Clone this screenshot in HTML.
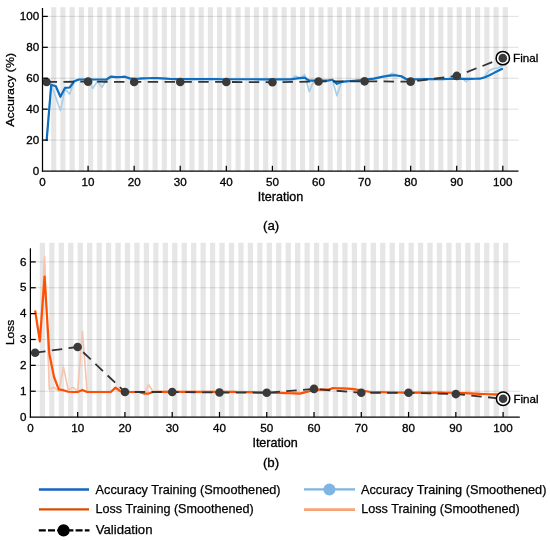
<!DOCTYPE html>
<html><head><meta charset="utf-8"><title>Training progress</title>
<style>html,body{margin:0;padding:0;background:#fff;} svg{display:block;} text{stroke:#000;stroke-width:0.3px;} text.lg{stroke-width:0.25px;}</style></head>
<body>
<svg width="550" height="540" viewBox="0 0 550 540" font-family='"Liberation Sans", sans-serif' fill="#000">
<rect width="550" height="540" fill="#fff"/>
<rect x="51.17" y="7.2" width="5.11" height="163.8" fill="#e6e6e6"/>
<rect x="60.38" y="7.2" width="5.11" height="163.8" fill="#e6e6e6"/>
<rect x="69.6" y="7.2" width="5.11" height="163.8" fill="#e6e6e6"/>
<rect x="78.81" y="7.2" width="5.11" height="163.8" fill="#e6e6e6"/>
<rect x="88.03" y="7.2" width="5.11" height="163.8" fill="#e6e6e6"/>
<rect x="97.25" y="7.2" width="5.11" height="163.8" fill="#e6e6e6"/>
<rect x="106.46" y="7.2" width="5.11" height="163.8" fill="#e6e6e6"/>
<rect x="115.68" y="7.2" width="5.11" height="163.8" fill="#e6e6e6"/>
<rect x="124.89" y="7.2" width="5.11" height="163.8" fill="#e6e6e6"/>
<rect x="134.11" y="7.2" width="5.11" height="163.8" fill="#e6e6e6"/>
<rect x="143.33" y="7.2" width="5.11" height="163.8" fill="#e6e6e6"/>
<rect x="152.54" y="7.2" width="5.11" height="163.8" fill="#e6e6e6"/>
<rect x="161.76" y="7.2" width="5.11" height="163.8" fill="#e6e6e6"/>
<rect x="170.97" y="7.2" width="5.11" height="163.8" fill="#e6e6e6"/>
<rect x="180.19" y="7.2" width="5.11" height="163.8" fill="#e6e6e6"/>
<rect x="189.41" y="7.2" width="5.11" height="163.8" fill="#e6e6e6"/>
<rect x="198.62" y="7.2" width="5.11" height="163.8" fill="#e6e6e6"/>
<rect x="207.84" y="7.2" width="5.11" height="163.8" fill="#e6e6e6"/>
<rect x="217.05" y="7.2" width="5.11" height="163.8" fill="#e6e6e6"/>
<rect x="226.27" y="7.2" width="5.11" height="163.8" fill="#e6e6e6"/>
<rect x="235.49" y="7.2" width="5.11" height="163.8" fill="#e6e6e6"/>
<rect x="244.7" y="7.2" width="5.11" height="163.8" fill="#e6e6e6"/>
<rect x="253.92" y="7.2" width="5.11" height="163.8" fill="#e6e6e6"/>
<rect x="263.13" y="7.2" width="5.11" height="163.8" fill="#e6e6e6"/>
<rect x="272.35" y="7.2" width="5.11" height="163.8" fill="#e6e6e6"/>
<rect x="281.57" y="7.2" width="5.11" height="163.8" fill="#e6e6e6"/>
<rect x="290.78" y="7.2" width="5.11" height="163.8" fill="#e6e6e6"/>
<rect x="300" y="7.2" width="5.11" height="163.8" fill="#e6e6e6"/>
<rect x="309.21" y="7.2" width="5.11" height="163.8" fill="#e6e6e6"/>
<rect x="318.43" y="7.2" width="5.11" height="163.8" fill="#e6e6e6"/>
<rect x="327.65" y="7.2" width="5.11" height="163.8" fill="#e6e6e6"/>
<rect x="336.86" y="7.2" width="5.11" height="163.8" fill="#e6e6e6"/>
<rect x="346.08" y="7.2" width="5.11" height="163.8" fill="#e6e6e6"/>
<rect x="355.29" y="7.2" width="5.11" height="163.8" fill="#e6e6e6"/>
<rect x="364.51" y="7.2" width="5.11" height="163.8" fill="#e6e6e6"/>
<rect x="373.73" y="7.2" width="5.11" height="163.8" fill="#e6e6e6"/>
<rect x="382.94" y="7.2" width="5.11" height="163.8" fill="#e6e6e6"/>
<rect x="392.16" y="7.2" width="5.11" height="163.8" fill="#e6e6e6"/>
<rect x="401.37" y="7.2" width="5.11" height="163.8" fill="#e6e6e6"/>
<rect x="410.59" y="7.2" width="5.11" height="163.8" fill="#e6e6e6"/>
<rect x="419.81" y="7.2" width="5.11" height="163.8" fill="#e6e6e6"/>
<rect x="429.02" y="7.2" width="5.11" height="163.8" fill="#e6e6e6"/>
<rect x="438.24" y="7.2" width="5.11" height="163.8" fill="#e6e6e6"/>
<rect x="447.45" y="7.2" width="5.11" height="163.8" fill="#e6e6e6"/>
<rect x="456.67" y="7.2" width="5.11" height="163.8" fill="#e6e6e6"/>
<rect x="465.89" y="7.2" width="5.11" height="163.8" fill="#e6e6e6"/>
<rect x="475.1" y="7.2" width="5.11" height="163.8" fill="#e6e6e6"/>
<rect x="484.32" y="7.2" width="5.11" height="163.8" fill="#e6e6e6"/>
<rect x="493.53" y="7.2" width="5.11" height="163.8" fill="#e6e6e6"/>
<rect x="502.75" y="7.2" width="5.11" height="163.8" fill="#e6e6e6"/>
<line x1="42.5" y1="140.08" x2="518.5" y2="140.08" stroke="#262626" stroke-opacity="0.15" stroke-width="1"/>
<line x1="42.5" y1="109.16" x2="518.5" y2="109.16" stroke="#262626" stroke-opacity="0.15" stroke-width="1"/>
<line x1="42.5" y1="78.24" x2="518.5" y2="78.24" stroke="#262626" stroke-opacity="0.15" stroke-width="1"/>
<line x1="42.5" y1="47.32" x2="518.5" y2="47.32" stroke="#262626" stroke-opacity="0.15" stroke-width="1"/>
<line x1="42.5" y1="16.4" x2="518.5" y2="16.4" stroke="#262626" stroke-opacity="0.15" stroke-width="1"/>
<clipPath id="c171"><rect x="42.5" y="0" width="486" height="171"/></clipPath>
<g clip-path="url(#c171)">
<polyline points="46.61,140.85 51.22,84.42 55.82,97.56 60.43,110.55 65.04,89.06 69.65,94.16 74.26,81.33 78.86,79.48 83.47,79.48 88.08,79.48 92.69,88.44 97.3,81.33 101.9,87.36 106.51,79.48 111.12,76.54 115.73,77.16 120.34,77 124.94,76.69 129.55,78.39 134.16,78.86 138.77,78.7 143.38,78.39 147.98,78.24 152.59,78.09 157.2,78.09 161.81,78.39 166.42,78.7 171.02,79.01 175.63,79.17 180.24,79.17 184.85,79.18 189.46,79.19 194.06,79.19 198.67,79.2 203.28,79.2 207.89,79.21 212.5,79.22 217.1,79.22 221.71,79.23 226.32,79.24 230.93,79.24 235.54,79.25 240.14,79.25 244.75,79.26 249.36,79.27 253.97,79.27 258.58,79.28 263.18,79.29 267.79,79.29 272.4,79.3 277.01,79.3 281.62,79.31 286.22,79.32 290.83,79.32 295.44,75.92 300.05,78.09 304.66,74.53 309.26,91.69 313.87,80.67 318.48,80.64 323.09,80.6 327.7,80.56 332.3,79.79 336.91,95.71 341.52,81.95 346.13,81.33 350.74,81.02 355.34,80.71 359.95,80.25 364.56,79.79 369.17,79.17 373.78,78.55 378.38,77.62 382.99,76.69 387.6,75.92 392.21,73.14 396.82,75.46 401.42,76.23 406.03,79.01 410.64,79.32 415.25,79.28 419.86,79.24 424.46,79.2 429.07,79.16 433.68,79.12 438.29,79.07 442.9,79.03 447.5,78.99 452.11,76.69 456.72,74.38 461.33,77.47 465.94,81.64 470.54,78.86 475.15,78.75 479.76,78.7 484.37,76.69 488.98,70.82 493.58,68.5 498.19,68.04 502.8,65.25" fill="none" stroke="#a9cfe8" stroke-width="1.6" stroke-linejoin="round" stroke-linecap="butt" />
<polyline points="46.61,140.85 51.22,84.73 55.82,86.28 60.43,96.79 65.04,87.83 69.65,87.52 74.26,81.33 78.86,79.48 83.47,79.48 88.08,79.48 92.69,79.48 97.3,79.48 101.9,79.48 106.51,79.48 111.12,76.54 115.73,77.16 120.34,77 124.94,76.69 129.55,78.39 134.16,78.86 138.77,78.7 143.38,78.39 147.98,78.24 152.59,78.09 157.2,78.09 161.81,78.39 166.42,78.7 171.02,79.01 175.63,79.17 180.24,79.17 184.85,79.18 189.46,79.19 194.06,79.19 198.67,79.2 203.28,79.2 207.89,79.21 212.5,79.22 217.1,79.22 221.71,79.23 226.32,79.24 230.93,79.24 235.54,79.25 240.14,79.25 244.75,79.26 249.36,79.27 253.97,79.27 258.58,79.28 263.18,79.29 267.79,79.29 272.4,79.3 277.01,79.3 281.62,79.31 286.22,79.32 290.83,79.32 295.44,78.7 300.05,78.09 304.66,77.62 309.26,80.71 313.87,80.67 318.48,80.64 323.09,80.6 327.7,80.56 332.3,79.79 336.91,83.81 341.52,81.95 346.13,81.33 350.74,81.02 355.34,80.71 359.95,80.25 364.56,79.79 369.17,79.17 373.78,78.55 378.38,77.62 382.99,76.69 387.6,75.92 392.21,75.46 396.82,75.46 401.42,76.23 406.03,79.01 410.64,79.32 415.25,79.28 419.86,79.24 424.46,79.2 429.07,79.16 433.68,79.12 438.29,79.07 442.9,79.03 447.5,78.99 452.11,78.95 456.72,78.91 461.33,78.87 465.94,78.83 470.54,78.79 475.15,78.75 479.76,78.7 484.37,77.47 488.98,75.46 493.58,73.14 498.19,70.82 502.8,68.5" fill="none" stroke="#0e6fc0" stroke-width="2.2" stroke-linejoin="round" stroke-linecap="butt" />
<polyline points="46.61,81.95 88.08,81.64 134.16,81.95 180.24,81.95 226.32,81.95 272.4,82.26 318.48,81.49 364.56,81.33 410.64,81.64 456.72,75.92 502.8,58.14" fill="none" stroke="#333333" stroke-width="1.8" stroke-linejoin="round" stroke-linecap="butt" stroke-dasharray="10.45 6.4"/>
<circle cx="46.61" cy="81.95" r="4.3" fill="#3a3a3a"/>
<circle cx="88.08" cy="81.64" r="4.3" fill="#3a3a3a"/>
<circle cx="134.16" cy="81.95" r="4.3" fill="#3a3a3a"/>
<circle cx="180.24" cy="81.95" r="4.3" fill="#3a3a3a"/>
<circle cx="226.32" cy="81.95" r="4.3" fill="#3a3a3a"/>
<circle cx="272.4" cy="82.26" r="4.3" fill="#3a3a3a"/>
<circle cx="318.48" cy="81.49" r="4.3" fill="#3a3a3a"/>
<circle cx="364.56" cy="81.33" r="4.3" fill="#3a3a3a"/>
<circle cx="410.64" cy="81.64" r="4.3" fill="#3a3a3a"/>
<circle cx="456.72" cy="75.92" r="4.3" fill="#3a3a3a"/>
<circle cx="502.8" cy="58.14" r="6.7" fill="#fff" stroke="#000" stroke-width="1.5"/>
<circle cx="502.8" cy="58.14" r="4.3" fill="#3a3a3a"/>
</g>
<text x="513.1" y="62.44" font-size="11.2" textLength="25.2" lengthAdjust="spacingAndGlyphs">Final</text>
<line x1="42.5" y1="8" x2="42.5" y2="171.6" stroke="#000" stroke-width="1.25"/>
<line x1="41.9" y1="171" x2="518.5" y2="171" stroke="#000" stroke-width="1.25"/>
<text x="39.2" y="174.7" font-size="11.2" text-anchor="end" textLength="6.48" lengthAdjust="spacingAndGlyphs">0</text>
<line x1="42.5" y1="140.08" x2="47.8" y2="140.08" stroke="#000" stroke-width="1.25"/>
<text x="39.2" y="143.78" font-size="11.2" text-anchor="end" textLength="12.95" lengthAdjust="spacingAndGlyphs">20</text>
<line x1="42.5" y1="109.16" x2="47.8" y2="109.16" stroke="#000" stroke-width="1.25"/>
<text x="39.2" y="112.86" font-size="11.2" text-anchor="end" textLength="12.95" lengthAdjust="spacingAndGlyphs">40</text>
<line x1="42.5" y1="78.24" x2="47.8" y2="78.24" stroke="#000" stroke-width="1.25"/>
<text x="39.2" y="81.94" font-size="11.2" text-anchor="end" textLength="12.95" lengthAdjust="spacingAndGlyphs">60</text>
<line x1="42.5" y1="47.32" x2="47.8" y2="47.32" stroke="#000" stroke-width="1.25"/>
<text x="39.2" y="51.02" font-size="11.2" text-anchor="end" textLength="12.95" lengthAdjust="spacingAndGlyphs">80</text>
<line x1="42.5" y1="16.4" x2="47.8" y2="16.4" stroke="#000" stroke-width="1.25"/>
<text x="39.2" y="20.1" font-size="11.2" text-anchor="end" textLength="19.43" lengthAdjust="spacingAndGlyphs">100</text>
<text x="42.5" y="185.7" font-size="11.2" text-anchor="middle" textLength="6.48" lengthAdjust="spacingAndGlyphs">0</text>
<line x1="88.08" y1="171" x2="88.08" y2="165.8" stroke="#000" stroke-width="1.25"/>
<text x="88.08" y="185.7" font-size="11.2" text-anchor="middle" textLength="12.95" lengthAdjust="spacingAndGlyphs">10</text>
<line x1="134.16" y1="171" x2="134.16" y2="165.8" stroke="#000" stroke-width="1.25"/>
<text x="134.16" y="185.7" font-size="11.2" text-anchor="middle" textLength="12.95" lengthAdjust="spacingAndGlyphs">20</text>
<line x1="180.24" y1="171" x2="180.24" y2="165.8" stroke="#000" stroke-width="1.25"/>
<text x="180.24" y="185.7" font-size="11.2" text-anchor="middle" textLength="12.95" lengthAdjust="spacingAndGlyphs">30</text>
<line x1="226.32" y1="171" x2="226.32" y2="165.8" stroke="#000" stroke-width="1.25"/>
<text x="226.32" y="185.7" font-size="11.2" text-anchor="middle" textLength="12.95" lengthAdjust="spacingAndGlyphs">40</text>
<line x1="272.4" y1="171" x2="272.4" y2="165.8" stroke="#000" stroke-width="1.25"/>
<text x="272.4" y="185.7" font-size="11.2" text-anchor="middle" textLength="12.95" lengthAdjust="spacingAndGlyphs">50</text>
<line x1="318.48" y1="171" x2="318.48" y2="165.8" stroke="#000" stroke-width="1.25"/>
<text x="318.48" y="185.7" font-size="11.2" text-anchor="middle" textLength="12.95" lengthAdjust="spacingAndGlyphs">60</text>
<line x1="364.56" y1="171" x2="364.56" y2="165.8" stroke="#000" stroke-width="1.25"/>
<text x="364.56" y="185.7" font-size="11.2" text-anchor="middle" textLength="12.95" lengthAdjust="spacingAndGlyphs">70</text>
<line x1="410.64" y1="171" x2="410.64" y2="165.8" stroke="#000" stroke-width="1.25"/>
<text x="410.64" y="185.7" font-size="11.2" text-anchor="middle" textLength="12.95" lengthAdjust="spacingAndGlyphs">80</text>
<line x1="456.72" y1="171" x2="456.72" y2="165.8" stroke="#000" stroke-width="1.25"/>
<text x="456.72" y="185.7" font-size="11.2" text-anchor="middle" textLength="12.95" lengthAdjust="spacingAndGlyphs">90</text>
<line x1="502.8" y1="171" x2="502.8" y2="165.8" stroke="#000" stroke-width="1.25"/>
<text x="502.8" y="185.7" font-size="11.2" text-anchor="middle" textLength="19.43" lengthAdjust="spacingAndGlyphs">100</text>
<text x="280.5" y="201" font-size="11.9" text-anchor="middle" textLength="45.4" lengthAdjust="spacingAndGlyphs">Iteration</text>
<text transform="translate(13.6,89.8) rotate(-90)" font-size="11.5" text-anchor="middle" textLength="73.8" lengthAdjust="spacingAndGlyphs">Accuracy (%)</text>
<rect x="39.8" y="242.8" width="5.23" height="174.3" fill="#e6e6e6"/>
<rect x="49.26" y="242.8" width="5.23" height="174.3" fill="#e6e6e6"/>
<rect x="58.71" y="242.8" width="5.23" height="174.3" fill="#e6e6e6"/>
<rect x="68.17" y="242.8" width="5.23" height="174.3" fill="#e6e6e6"/>
<rect x="77.62" y="242.8" width="5.23" height="174.3" fill="#e6e6e6"/>
<rect x="87.07" y="242.8" width="5.23" height="174.3" fill="#e6e6e6"/>
<rect x="96.53" y="242.8" width="5.23" height="174.3" fill="#e6e6e6"/>
<rect x="105.98" y="242.8" width="5.23" height="174.3" fill="#e6e6e6"/>
<rect x="115.44" y="242.8" width="5.23" height="174.3" fill="#e6e6e6"/>
<rect x="124.89" y="242.8" width="5.23" height="174.3" fill="#e6e6e6"/>
<rect x="134.34" y="242.8" width="5.23" height="174.3" fill="#e6e6e6"/>
<rect x="143.8" y="242.8" width="5.23" height="174.3" fill="#e6e6e6"/>
<rect x="153.25" y="242.8" width="5.23" height="174.3" fill="#e6e6e6"/>
<rect x="162.71" y="242.8" width="5.23" height="174.3" fill="#e6e6e6"/>
<rect x="172.16" y="242.8" width="5.23" height="174.3" fill="#e6e6e6"/>
<rect x="181.61" y="242.8" width="5.23" height="174.3" fill="#e6e6e6"/>
<rect x="191.07" y="242.8" width="5.23" height="174.3" fill="#e6e6e6"/>
<rect x="200.52" y="242.8" width="5.23" height="174.3" fill="#e6e6e6"/>
<rect x="209.98" y="242.8" width="5.23" height="174.3" fill="#e6e6e6"/>
<rect x="219.43" y="242.8" width="5.23" height="174.3" fill="#e6e6e6"/>
<rect x="228.88" y="242.8" width="5.23" height="174.3" fill="#e6e6e6"/>
<rect x="238.34" y="242.8" width="5.23" height="174.3" fill="#e6e6e6"/>
<rect x="247.79" y="242.8" width="5.23" height="174.3" fill="#e6e6e6"/>
<rect x="257.25" y="242.8" width="5.23" height="174.3" fill="#e6e6e6"/>
<rect x="266.7" y="242.8" width="5.23" height="174.3" fill="#e6e6e6"/>
<rect x="276.15" y="242.8" width="5.23" height="174.3" fill="#e6e6e6"/>
<rect x="285.61" y="242.8" width="5.23" height="174.3" fill="#e6e6e6"/>
<rect x="295.06" y="242.8" width="5.23" height="174.3" fill="#e6e6e6"/>
<rect x="304.52" y="242.8" width="5.23" height="174.3" fill="#e6e6e6"/>
<rect x="313.97" y="242.8" width="5.23" height="174.3" fill="#e6e6e6"/>
<rect x="323.42" y="242.8" width="5.23" height="174.3" fill="#e6e6e6"/>
<rect x="332.88" y="242.8" width="5.23" height="174.3" fill="#e6e6e6"/>
<rect x="342.33" y="242.8" width="5.23" height="174.3" fill="#e6e6e6"/>
<rect x="351.79" y="242.8" width="5.23" height="174.3" fill="#e6e6e6"/>
<rect x="361.24" y="242.8" width="5.23" height="174.3" fill="#e6e6e6"/>
<rect x="370.69" y="242.8" width="5.23" height="174.3" fill="#e6e6e6"/>
<rect x="380.15" y="242.8" width="5.23" height="174.3" fill="#e6e6e6"/>
<rect x="389.6" y="242.8" width="5.23" height="174.3" fill="#e6e6e6"/>
<rect x="399.06" y="242.8" width="5.23" height="174.3" fill="#e6e6e6"/>
<rect x="408.51" y="242.8" width="5.23" height="174.3" fill="#e6e6e6"/>
<rect x="417.96" y="242.8" width="5.23" height="174.3" fill="#e6e6e6"/>
<rect x="427.42" y="242.8" width="5.23" height="174.3" fill="#e6e6e6"/>
<rect x="436.87" y="242.8" width="5.23" height="174.3" fill="#e6e6e6"/>
<rect x="446.33" y="242.8" width="5.23" height="174.3" fill="#e6e6e6"/>
<rect x="455.78" y="242.8" width="5.23" height="174.3" fill="#e6e6e6"/>
<rect x="465.23" y="242.8" width="5.23" height="174.3" fill="#e6e6e6"/>
<rect x="474.69" y="242.8" width="5.23" height="174.3" fill="#e6e6e6"/>
<rect x="484.14" y="242.8" width="5.23" height="174.3" fill="#e6e6e6"/>
<rect x="493.6" y="242.8" width="5.23" height="174.3" fill="#e6e6e6"/>
<rect x="503.05" y="242.8" width="5.23" height="174.3" fill="#e6e6e6"/>
<line x1="30.4" y1="391.23" x2="519.8" y2="391.23" stroke="#262626" stroke-opacity="0.15" stroke-width="1"/>
<line x1="30.4" y1="365.36" x2="519.8" y2="365.36" stroke="#262626" stroke-opacity="0.15" stroke-width="1"/>
<line x1="30.4" y1="339.49" x2="519.8" y2="339.49" stroke="#262626" stroke-opacity="0.15" stroke-width="1"/>
<line x1="30.4" y1="313.62" x2="519.8" y2="313.62" stroke="#262626" stroke-opacity="0.15" stroke-width="1"/>
<line x1="30.4" y1="287.75" x2="519.8" y2="287.75" stroke="#262626" stroke-opacity="0.15" stroke-width="1"/>
<line x1="30.4" y1="261.88" x2="519.8" y2="261.88" stroke="#262626" stroke-opacity="0.15" stroke-width="1"/>
<clipPath id="c417"><rect x="30.4" y="0" width="499.4" height="417.1"/></clipPath>
<g clip-path="url(#c417)">
<polyline points="35.13,310.52 39.85,341.3 44.58,256.19 49.31,389.16 54.03,387.35 58.76,391.23 63.49,367.43 68.22,389.94 72.94,387.35 77.67,391.23 82.4,331.21 87.12,391.23 91.85,392.01 96.58,392.01 101.31,392.01 106.03,392.01 110.76,392.01 115.49,387.61 120.21,391.23 124.94,392.01 129.67,392.01 134.39,392.01 139.12,392.01 143.85,393.56 148.58,384.76 153.3,392.01 158.03,391.94 162.76,391.88 167.48,391.81 172.21,391.75 176.94,391.76 181.66,391.78 186.39,391.8 191.12,391.82 195.85,391.83 200.57,391.85 205.3,391.87 210.03,391.89 214.75,391.9 219.48,391.92 224.21,391.94 228.93,391.95 233.66,391.97 238.39,391.99 243.12,392.01 247.84,392.11 252.57,392.21 257.3,392.32 262.02,392.42 266.75,392.52 271.48,392.67 276.2,392.82 280.93,392.97 285.66,393.11 290.38,393.26 295.11,393.41 299.84,393.56 304.57,392.39 309.29,391.23 314.02,390.45 318.75,389.68 323.47,389.68 328.2,389.68 332.93,388.13 337.65,388.25 342.38,388.38 347.11,388.64 351.84,388.9 356.56,389.68 361.29,390.45 366.02,391.23 370.74,392.01 375.47,392.09 380.2,392.18 384.93,392.26 389.65,392.35 394.38,392.44 399.11,392.52 403.83,392.55 408.56,392.57 413.29,392.59 418.01,392.61 422.74,392.63 427.47,392.65 432.19,392.67 436.92,392.7 441.65,392.72 446.38,392.74 451.1,392.76 455.83,392.78 460.56,392.99 465.28,393.2 470.01,393.4 474.74,393.61 479.47,393.82 484.19,394.02 488.92,394.23 493.65,394.44 498.37,394.64 503.1,394.85" fill="none" stroke="#f6c3ad" stroke-width="1.6" stroke-linejoin="round" stroke-linecap="butt" />
<polyline points="35.13,310.52 39.85,341.3 44.58,276.63 49.31,353.72 54.03,377 58.76,389.42 63.49,390.2 68.22,391.75 72.94,392.01 77.67,392.01 82.4,389.94 87.12,392.01 91.85,392.01 96.58,392.01 101.31,392.01 106.03,392.01 110.76,392.01 115.49,387.61 120.21,391.23 124.94,392.01 129.67,392.01 134.39,392.01 139.12,392.01 143.85,393.56 148.58,393.56 153.3,392.01 158.03,391.94 162.76,391.88 167.48,391.81 172.21,391.75 176.94,391.76 181.66,391.78 186.39,391.8 191.12,391.82 195.85,391.83 200.57,391.85 205.3,391.87 210.03,391.89 214.75,391.9 219.48,391.92 224.21,391.94 228.93,391.95 233.66,391.97 238.39,391.99 243.12,392.01 247.84,392.11 252.57,392.21 257.3,392.32 262.02,392.42 266.75,392.52 271.48,392.67 276.2,392.82 280.93,392.97 285.66,393.11 290.38,393.26 295.11,393.41 299.84,393.56 304.57,392.39 309.29,391.23 314.02,390.45 318.75,389.68 323.47,389.68 328.2,389.68 332.93,388.13 337.65,388.25 342.38,388.38 347.11,388.64 351.84,388.9 356.56,389.68 361.29,390.45 366.02,391.23 370.74,392.01 375.47,392.09 380.2,392.18 384.93,392.26 389.65,392.35 394.38,392.44 399.11,392.52 403.83,392.55 408.56,392.57 413.29,392.59 418.01,392.61 422.74,392.63 427.47,392.65 432.19,392.67 436.92,392.7 441.65,392.72 446.38,392.74 451.1,392.76 455.83,392.78 460.56,392.99 465.28,393.2 470.01,393.4 474.74,393.61 479.47,393.82 484.19,394.02 488.92,394.23 493.65,394.44 498.37,394.64 503.1,394.85" fill="none" stroke="#ff4f00" stroke-width="2.2" stroke-linejoin="round" stroke-linecap="butt" />
<polyline points="35.13,352.68 77.67,346.99 124.94,392.01 172.21,392.01 219.48,392.52 266.75,392.78 314.02,388.9 361.29,392.78 408.56,392.78 455.83,394.08 503.1,398.73" fill="none" stroke="#333333" stroke-width="1.8" stroke-linejoin="round" stroke-linecap="butt" stroke-dasharray="10.45 6.4"/>
<circle cx="35.13" cy="352.68" r="4.3" fill="#3a3a3a"/>
<circle cx="77.67" cy="346.99" r="4.3" fill="#3a3a3a"/>
<circle cx="124.94" cy="392.01" r="4.3" fill="#3a3a3a"/>
<circle cx="172.21" cy="392.01" r="4.3" fill="#3a3a3a"/>
<circle cx="219.48" cy="392.52" r="4.3" fill="#3a3a3a"/>
<circle cx="266.75" cy="392.78" r="4.3" fill="#3a3a3a"/>
<circle cx="314.02" cy="388.9" r="4.3" fill="#3a3a3a"/>
<circle cx="361.29" cy="392.78" r="4.3" fill="#3a3a3a"/>
<circle cx="408.56" cy="392.78" r="4.3" fill="#3a3a3a"/>
<circle cx="455.83" cy="394.08" r="4.3" fill="#3a3a3a"/>
<circle cx="503.1" cy="398.73" r="6.7" fill="#fff" stroke="#000" stroke-width="1.5"/>
<circle cx="503.1" cy="398.73" r="4.3" fill="#3a3a3a"/>
</g>
<text x="513.4" y="403.03" font-size="11.2" textLength="25.2" lengthAdjust="spacingAndGlyphs">Final</text>
<line x1="30.4" y1="248.3" x2="30.4" y2="417.7" stroke="#000" stroke-width="1.25"/>
<line x1="29.8" y1="417.1" x2="519.8" y2="417.1" stroke="#000" stroke-width="1.25"/>
<text x="26.5" y="420.8" font-size="11.2" text-anchor="end" textLength="6.48" lengthAdjust="spacingAndGlyphs">0</text>
<line x1="30.4" y1="391.23" x2="35.7" y2="391.23" stroke="#000" stroke-width="1.25"/>
<text x="26.5" y="394.93" font-size="11.2" text-anchor="end" textLength="6.48" lengthAdjust="spacingAndGlyphs">1</text>
<line x1="30.4" y1="365.36" x2="35.7" y2="365.36" stroke="#000" stroke-width="1.25"/>
<text x="26.5" y="369.06" font-size="11.2" text-anchor="end" textLength="6.48" lengthAdjust="spacingAndGlyphs">2</text>
<line x1="30.4" y1="339.49" x2="35.7" y2="339.49" stroke="#000" stroke-width="1.25"/>
<text x="26.5" y="343.19" font-size="11.2" text-anchor="end" textLength="6.48" lengthAdjust="spacingAndGlyphs">3</text>
<line x1="30.4" y1="313.62" x2="35.7" y2="313.62" stroke="#000" stroke-width="1.25"/>
<text x="26.5" y="317.32" font-size="11.2" text-anchor="end" textLength="6.48" lengthAdjust="spacingAndGlyphs">4</text>
<line x1="30.4" y1="287.75" x2="35.7" y2="287.75" stroke="#000" stroke-width="1.25"/>
<text x="26.5" y="291.45" font-size="11.2" text-anchor="end" textLength="6.48" lengthAdjust="spacingAndGlyphs">5</text>
<line x1="30.4" y1="261.88" x2="35.7" y2="261.88" stroke="#000" stroke-width="1.25"/>
<text x="26.5" y="265.58" font-size="11.2" text-anchor="end" textLength="6.48" lengthAdjust="spacingAndGlyphs">6</text>
<text x="30.4" y="431.8" font-size="11.2" text-anchor="middle" textLength="6.48" lengthAdjust="spacingAndGlyphs">0</text>
<line x1="77.67" y1="417.1" x2="77.67" y2="411.9" stroke="#000" stroke-width="1.25"/>
<text x="77.67" y="431.8" font-size="11.2" text-anchor="middle" textLength="12.95" lengthAdjust="spacingAndGlyphs">10</text>
<line x1="124.94" y1="417.1" x2="124.94" y2="411.9" stroke="#000" stroke-width="1.25"/>
<text x="124.94" y="431.8" font-size="11.2" text-anchor="middle" textLength="12.95" lengthAdjust="spacingAndGlyphs">20</text>
<line x1="172.21" y1="417.1" x2="172.21" y2="411.9" stroke="#000" stroke-width="1.25"/>
<text x="172.21" y="431.8" font-size="11.2" text-anchor="middle" textLength="12.95" lengthAdjust="spacingAndGlyphs">30</text>
<line x1="219.48" y1="417.1" x2="219.48" y2="411.9" stroke="#000" stroke-width="1.25"/>
<text x="219.48" y="431.8" font-size="11.2" text-anchor="middle" textLength="12.95" lengthAdjust="spacingAndGlyphs">40</text>
<line x1="266.75" y1="417.1" x2="266.75" y2="411.9" stroke="#000" stroke-width="1.25"/>
<text x="266.75" y="431.8" font-size="11.2" text-anchor="middle" textLength="12.95" lengthAdjust="spacingAndGlyphs">50</text>
<line x1="314.02" y1="417.1" x2="314.02" y2="411.9" stroke="#000" stroke-width="1.25"/>
<text x="314.02" y="431.8" font-size="11.2" text-anchor="middle" textLength="12.95" lengthAdjust="spacingAndGlyphs">60</text>
<line x1="361.29" y1="417.1" x2="361.29" y2="411.9" stroke="#000" stroke-width="1.25"/>
<text x="361.29" y="431.8" font-size="11.2" text-anchor="middle" textLength="12.95" lengthAdjust="spacingAndGlyphs">70</text>
<line x1="408.56" y1="417.1" x2="408.56" y2="411.9" stroke="#000" stroke-width="1.25"/>
<text x="408.56" y="431.8" font-size="11.2" text-anchor="middle" textLength="12.95" lengthAdjust="spacingAndGlyphs">80</text>
<line x1="455.83" y1="417.1" x2="455.83" y2="411.9" stroke="#000" stroke-width="1.25"/>
<text x="455.83" y="431.8" font-size="11.2" text-anchor="middle" textLength="12.95" lengthAdjust="spacingAndGlyphs">90</text>
<line x1="503.1" y1="417.1" x2="503.1" y2="411.9" stroke="#000" stroke-width="1.25"/>
<text x="503.1" y="431.8" font-size="11.2" text-anchor="middle" textLength="19.43" lengthAdjust="spacingAndGlyphs">100</text>
<text x="275.1" y="447.1" font-size="11.9" text-anchor="middle" textLength="45.4" lengthAdjust="spacingAndGlyphs">Iteration</text>
<text transform="translate(14.3,332.4) rotate(-90)" font-size="11.8" text-anchor="middle" textLength="25.3" lengthAdjust="spacingAndGlyphs">Loss</text>
<text x="271.1" y="230.0" font-size="12" text-anchor="middle" textLength="16.2" lengthAdjust="spacingAndGlyphs">(a)</text>
<text x="271.0" y="466.8" font-size="12" text-anchor="middle" textLength="16.2" lengthAdjust="spacingAndGlyphs">(b)</text>
<line x1="38.9" y1="489.5" x2="89" y2="489.5" stroke="#1565c0" stroke-width="2.4"/>
<line x1="38.9" y1="509.4" x2="89" y2="509.4" stroke="#d94f00" stroke-width="2.4"/>
<line x1="38.8" y1="530.4" x2="89.5" y2="530.4" stroke="#000" stroke-width="2.4" stroke-dasharray="7 2.2"/>
<circle cx="63.6" cy="530.4" r="6.1" fill="#000"/>
<line x1="304" y1="489.4" x2="355" y2="489.4" stroke="#7fb5e2" stroke-width="2.2"/>
<circle cx="329.4" cy="489.4" r="6" fill="#7fb5e2"/>
<line x1="304" y1="509.6" x2="355" y2="509.6" stroke="#f7a577" stroke-width="2.6"/>
<text x="95.6" y="493.8" class="lg" font-size="12.6" textLength="185" lengthAdjust="spacingAndGlyphs">Accuracy Training (Smoothened)</text>
<text x="95.6" y="512.8" class="lg" font-size="12.6" textLength="158" lengthAdjust="spacingAndGlyphs">Loss Training (Smoothened)</text>
<text x="95.7" y="533.7" class="lg" font-size="12.6" textLength="56.8" lengthAdjust="spacingAndGlyphs">Validation</text>
<text x="361" y="493.8" class="lg" font-size="12.6" textLength="185.4" lengthAdjust="spacingAndGlyphs">Accuracy Training (Smoothened)</text>
<text x="361.2" y="512.8" class="lg" font-size="12.6" textLength="158.6" lengthAdjust="spacingAndGlyphs">Loss Training (Smoothened)</text>
</svg>
</body></html>
